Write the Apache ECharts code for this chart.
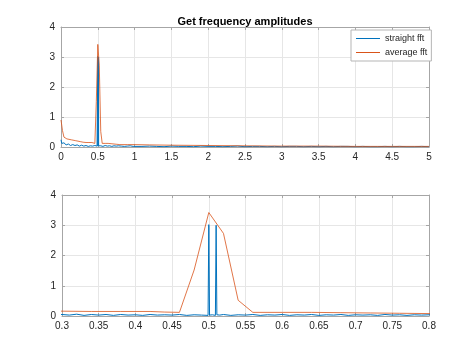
<!DOCTYPE html>
<html><head><meta charset="utf-8">
<script src="https://cdn.jsdelivr.net/npm/echarts@6/dist/echarts.min.js"></script>
<style>html,body{margin:0;padding:0;background:#fff}#c{width:474px;height:355px}</style>
</head><body><div id="c"></div>
<script>
const titleText = 'Get frequency amplitudes';
const seriesNames = ['straight fft', 'average fft'];
const yTicks = [0, 1, 2, 3, 4];

// straight fft (fine resolution)
const strFreq = [0,0.01,0.02,0.03,0.04,0.05,0.06,0.07,0.08,0.09,
0.1,0.11,0.12,0.13,0.14,0.15,0.16,0.17,0.18,0.19,
0.2,0.21,0.22,0.23,0.24,0.25,0.26,0.27,0.28,0.29,
0.3,0.31,0.32,0.33,0.34,0.35,0.36,0.37,0.38,0.39,
0.4,0.41,0.42,0.43,0.44,0.45,0.46,0.47,0.48,0.49,
0.499,0.5,0.501,0.505,0.509,0.51,0.511,0.515,
0.52,0.53,0.54,0.55,0.56,0.57,0.58,0.59,
0.6,0.61,0.62,0.63,0.64,0.65,0.66,0.67,0.68,0.69,
0.7,0.71,0.72,0.73,0.74,0.75,0.76,0.77,0.78,0.79,0.8,
0.82,0.84,0.86,0.88,0.9,0.92,0.94,0.96,0.98,1.0,
1.1,1.2,1.3,1.4,1.5,1.6,1.7,1.8,1.9,2.0,
2.1,2.2,2.3,2.4,2.5,2.6,2.7,2.8,2.9,3.0,
3.1,3.2,3.3,3.4,3.5,3.6,3.7,3.8,3.9,4.0,
4.1,4.2,4.3,4.4,4.5,4.6,4.7,4.8,4.9,5.0];
const strAmp = [0.24,0.12,0.17,0.09,0.14,0.08,0.12,0.07,0.11,0.06,
0.10,0.06,0.09,0.05,0.09,0.05,0.08,0.04,0.08,0.05,
0.07,0.04,0.07,0.04,0.07,0.03,0.06,0.04,0.06,0.03,
0.05,0.03,0.06,0.02,0.05,0.03,0.05,0.02,0.05,0.03,
0.04,0.02,0.05,0.03,0.04,0.03,0.05,0.02,0.04,0.03,
0.02,3.02,0.03,0.04,0.02,3.0,0.04,0.03,
0.05,0.02,0.04,0.03,0.05,0.02,0.04,0.03,
0.05,0.02,0.04,0.03,0.05,0.02,0.04,0.03,0.05,0.02,
0.04,0.03,0.04,0.02,0.05,0.03,0.04,0.02,0.04,0.03,0.04,
0.03,0.04,0.02,0.04,0.03,0.02,0.04,0.03,0.02,0.03,
0.02,0.03,0.02,0.01,0.03,0.02,0.02,0.01,0.03,0.02,
0.02,0.01,0.02,0.03,0.01,0.02,0.02,0.01,0.02,0.01,
0.02,0.02,0.01,0.02,0.01,0.02,0.01,0.02,0.02,0.01,
0.02,0.01,0.01,0.02,0.01,0.02,0.01,0.01,0.02,0.01];

// average fft (coarse resolution)
const avgFreq = [0,0.02,0.04,0.06,0.08,0.1,0.14,0.2,0.26,0.3,0.34,0.38,0.42,0.44,0.46,0.48,0.5,0.52,0.54,0.56,0.6,0.64,0.68,0.72,0.76,0.8,0.9,1,1.2,1.5,2,2.5,3,3.5,4,4.5,5];
const avgAmp = [0.9,0.55,0.33,0.29,0.27,0.26,0.24,0.21,0.18,0.16,0.15,0.15,0.15,0.13,0.12,1.52,3.42,2.73,0.52,0.12,0.12,0.12,0.11,0.1,0.09,0.08,0.08,0.08,0.07,0.06,0.05,0.04,0.03,0.03,0.02,0.02,0.02];

const strData = strFreq.map((f, i) => [f, strAmp[i]]);
const avgData = avgFreq.map((f, i) => [f, avgAmp[i]]);

const FONT = '"Liberation Sans", Arial, Helvetica, sans-serif';
const AX = '#a6a6a6', GRID = '#e6e6e6', TXT = '#262626';
const BLUE = '#0072BD', RED = '#D95319';
const fmt = v => String(+v.toFixed(2));

function xAx(grid, min, max, interval, pos) {
  const main = pos === 'bottom';
  return {
    type: 'value', gridIndex: grid, min, max, interval, position: pos,
    axisLine: { show: true, onZero: false, lineStyle: { color: AX, width: 1 } },
    axisTick: { show: true, inside: true, length: 3, lineStyle: { color: AX } },
    axisLabel: { show: main, color: TXT, fontSize: 10, fontFamily: FONT, margin: 5, formatter: fmt },
    splitLine: { show: main, lineStyle: { color: GRID, width: 1 } }
  };
}
function yAx(grid, pos) {
  const main = pos === 'left';
  return {
    type: 'value', gridIndex: grid, min: 0, max: 4, interval: 1, position: pos,
    axisLine: { show: true, onZero: false, lineStyle: { color: AX, width: 1 } },
    axisTick: { show: true, inside: true, length: 3, lineStyle: { color: AX } },
    axisLabel: { show: main, color: TXT, fontSize: 10, fontFamily: FONT, margin: 6,
      formatter: v => yTicks.includes(v) ? String(v) : '' },
    splitLine: { show: main, lineStyle: { color: GRID, width: 1 } }
  };
}

const chart = echarts.init(document.getElementById('c'), null, { renderer: 'canvas' });
chart.setOption({
  animation: false,
  backgroundColor: '#fff',
  title: { text: titleText, left: 240, textAlign: 'center', top: 11,
    textStyle: { fontSize: 11, fontWeight: 'bold', color: '#000', fontFamily: FONT } },
  legend: {
    data: seriesNames.map(n => ({ name: n, icon: 'rect' })),
    orient: 'vertical', left: 351, top: 30,
    padding: [4, 4, 4, 5], itemGap: 5, itemWidth: 24, itemHeight: 1,
    borderColor: '#b5b5b5', borderWidth: 1, backgroundColor: '#fff',
    textStyle: { fontSize: 9, color: TXT, fontFamily: FONT, lineHeight: 9 }
  },
  grid: [
    { left: 61, top: 27, width: 368, height: 120 },
    { left: 62, top: 195, width: 367, height: 121 }
  ],
  xAxis: [
    xAx(0, 0, 5, 0.5, 'bottom'), xAx(0, 0, 5, 0.5, 'top'),
    xAx(1, 0.3, 0.8, 0.05, 'bottom'), xAx(1, 0.3, 0.8, 0.05, 'top')
  ],
  yAxis: [ yAx(0, 'left'), yAx(0, 'right'), yAx(1, 'left'), yAx(1, 'right') ],
  series: [
    { name: seriesNames[0], type: 'line', xAxisIndex: 0, yAxisIndex: 0, data: strData,
      symbol: 'none', lineStyle: { color: BLUE, width: 1 }, itemStyle: { color: BLUE }, clip: true },
    { name: seriesNames[1], type: 'line', xAxisIndex: 0, yAxisIndex: 0, data: avgData,
      symbol: 'none', lineStyle: { color: RED, width: 0.8 }, itemStyle: { color: RED }, clip: true },
    { name: seriesNames[0], type: 'line', xAxisIndex: 2, yAxisIndex: 2, data: strData,
      symbol: 'none', lineStyle: { color: BLUE, width: 1 }, itemStyle: { color: BLUE }, clip: true },
    { name: seriesNames[1], type: 'line', xAxisIndex: 2, yAxisIndex: 2, data: avgData,
      symbol: 'none', lineStyle: { color: RED, width: 0.8 }, itemStyle: { color: RED }, clip: true }
  ]
});
</script></body></html>
